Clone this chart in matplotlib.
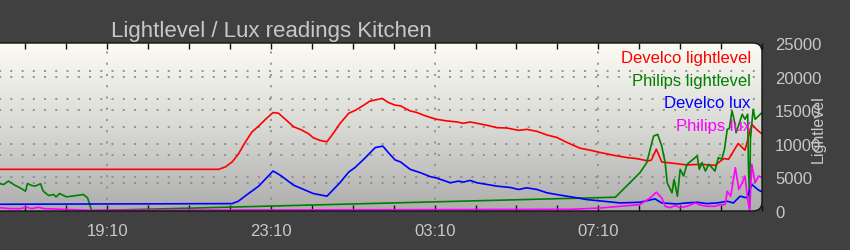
import numpy as np
import matplotlib
matplotlib.use("Agg")
import matplotlib.pyplot as plt
from matplotlib.patches import FancyBboxPatch
from matplotlib.colors import LinearSegmentedColormap
from matplotlib.ticker import FixedLocator, FuncFormatter

plt.rcParams['font.family'] = ['Liberation Sans', 'DejaVu Sans']
plt.rcParams['lines.scale_dashes'] = False

title = "Lightlevel / Lux readings Kitchen"
y_label = "Lightlevel"
series_names = ["Develco lightlevel", "Philips lightlevel", "Develco lux", "Philips lux"]
series_colors = ["#FF0000", "#008000", "#0000FF", "#FF00FF"]
y_ticks = [0, 5000, 10000, 15000, 20000, 25000]

# Develco lightlevel
red_t = ["16:30", "21:53", "22:03", "22:13", "22:22", "22:32", "22:42", "22:52", "23:02", "23:13",
         "23:21", "23:31", "23:43", "23:55", "00:05", "00:12", "00:22", "00:32", "00:42", "00:51",
         "01:04", "01:13", "01:26", "01:35", "01:53", "02:02", "02:12", "02:20", "02:27", "02:34",
         "02:44", "02:54", "03:04", "03:13", "03:28", "03:43", "03:52", "04:02", "04:12", "04:27",
         "04:41", "04:56", "05:13", "05:25", "05:40", "05:55", "06:09", "06:24", "06:43", "06:58",
         "07:13", "07:32", "07:52", "08:06", "08:23", "08:28", "08:35", "08:43", "09:00", "09:20",
         "09:39", "10:01", "10:14", "10:21", "10:35", "10:45", "10:55", "11:03", "11:09"]
red_v = [6200, 6200, 6550, 7300, 8450, 10200, 11750, 12650, 13650, 14650,
         14550, 13650, 12550, 12050, 11500, 10900, 10500, 10300, 11650, 13000,
         14550, 14950, 15750, 16350, 16750, 16150, 15750, 15650, 15250, 14900,
         14650, 14250, 13900, 13650, 13400, 13250, 13050, 13250, 13050, 12750,
         12400, 12350, 12000, 12150, 11850, 11300, 10950, 10200, 9350, 9050,
         8700, 8300, 7950, 7800, 7450, 7600, 9200, 7300, 7100, 6850,
         6950, 6800, 7800, 7700, 10050, 9050, 12900, 12050, 11550]

# Philips lightlevel
green_t = ["16:30", "16:38", "16:45", "16:55", "17:02", "17:10", "17:13", "17:19", "17:24", "17:32",
           "17:36", "17:44", "17:51", "17:55", "18:00", "18:10", "18:35", "18:41", "18:47", "07:35",
           "08:11", "08:21", "08:31", "08:37", "08:43", "08:48", "08:51", "08:58", "09:01", "09:06",
           "09:10", "09:15", "09:20", "09:35", "09:38", "09:42", "09:47", "09:52", "10:01", "10:06",
           "10:11", "10:15", "10:19", "10:22", "10:26", "10:29", "10:32", "10:37", "10:41", "10:45",
           "10:49", "10:50", "10:52", "10:53", "10:57", "11:00", "11:05", "11:09"]
green_v = [4100, 3950, 4450, 3800, 3450, 2950, 4100, 3800, 3700, 4050,
           2950, 2300, 2450, 2100, 2600, 2100, 2450, 1950, 50, 2050,
           5700, 7200, 11150, 11400, 9650, 7200, 4200, 2700, 4700, 2200,
           6200, 5200, 6950, 8200, 6200, 7200, 5950, 6950, 5950, 7950,
           7700, 9200, 12150, 12250, 14900, 13650, 11650, 13150, 14400, 13650,
           14400, 7200, 700, 10650, 15150, 13650, 14150, 14550]

# Develco lux
blue_t = ["16:30", "19:09", "22:13", "22:22", "22:35", "22:52", "23:13", "23:24", "23:43", "23:58",
          "00:12", "00:32", "00:51", "01:04", "01:13", "01:26", "01:43", "01:54", "02:02", "02:12",
          "02:20", "02:34", "02:49", "03:04", "03:13", "03:23", "03:33", "03:45", "03:52", "04:02",
          "04:12", "04:27", "04:41", "05:01", "05:13", "05:25", "05:40", "05:55", "06:09", "06:24",
          "06:39", "06:53", "07:13", "07:42", "08:11", "08:33", "08:43", "09:05", "09:20", "09:35",
          "09:49", "10:04", "10:19", "10:28", "10:38", "10:48", "10:55", "11:05", "11:09"]
blue_v = [1000, 1050, 1100, 1450, 2450, 3700, 5950, 5300, 3850, 3200,
          2600, 2200, 4200, 5800, 6450, 7700, 9450, 9650, 8700, 7600,
          7300, 6200, 5700, 5100, 4900, 4550, 4200, 4450, 4300, 4550,
          4200, 3950, 3700, 3500, 3200, 3450, 3200, 2700, 2450, 2200,
          1950, 1700, 1500, 1200, 1300, 1800, 1200, 1050, 1200, 1300,
          1100, 1200, 1450, 1200, 2200, 1950, 3950, 3100, 2900]

# Philips lux
magenta_t = ["16:30", "16:48", "17:02", "17:12", "17:19", "17:29", "17:37", "18:45", "06:30", "07:13",
             "07:42", "08:11", "08:26", "08:35", "08:43", "08:48", "08:55", "09:03", "09:10", "09:20",
             "09:32", "09:39", "09:49", "10:01", "10:09", "10:16", "10:19", "10:24", "10:31", "10:36",
             "10:41", "10:45", "10:49", "10:52", "10:55", "11:00", "11:05", "11:09"]
magenta_v = [500, 350, 350, 550, 350, 550, 350, 100, 250, 450,
             700, 950, 1950, 2800, 1950, 700, 500, 800, 500, 700,
             1200, 900, 700, 700, 950, 950, 2950, 2200, 6450, 3200,
             4200, 5200, 1700, 0, 6950, 4200, 5200, 5000]


def to_hours(times):
    out = []
    for t in times:
        h, m = t.split(":")
        v = int(h) + int(m) / 60
        if v < 12:
            v += 24
        out.append(v)
    return np.array(out)


fig = plt.figure(figsize=(8.5, 2.51), dpi=100, facecolor="#404040")
# plot area is wider than the picture, its left part is cut off
ax = fig.add_axes([-220 / 850, 39 / 251, 982 / 850, 168 / 251])
ax.set_facecolor("none")
for s in ax.spines.values():
    s.set_visible(False)
ax.set_xlim(11 + 10 / 60, 35 + 10 / 60)
ax.set_ylim(0, 25000)

# gradient background with rounded corners
clip = FancyBboxPatch((-2.2, 0.39), 9.82, 1.68, boxstyle="round,pad=0,rounding_size=0.09",
                      transform=fig.dpi_scale_trans)
bg = LinearSegmentedColormap.from_list("bg", ["#FCFCF4", "#D9D9D5", "#ADADAD"])
img = ax.imshow(np.linspace(0, 1, 256).reshape(-1, 1), cmap=bg, aspect="auto",
                extent=[0, 1, 0, 1], transform=ax.transAxes, origin="upper", zorder=0)
img.set_clip_path(clip)
border = FancyBboxPatch((-2.2, 0.39), 9.82, 1.68, boxstyle="round,pad=0,rounding_size=0.09",
                        transform=fig.dpi_scale_trans, facecolor="none", edgecolor="#111111",
                        lw=1.0, zorder=5)
fig.add_artist(border)

# grid
dots = (1.5, 6.6)
for v in y_ticks[1:-1]:
    ax.axhline(v, color="#888888", lw=1.2, dashes=dots, zorder=1)
for k in range(1, 6):
    ax.axhline(25000 * k / 6, color="#888888", lw=1.2, dashes=dots, zorder=1)
hour_ticks = [11 + 10 / 60 + k for k in range(25)]
for k, h in enumerate(hour_ticks):
    if k % 4 == 0 and 0 < k < 24:
        ax.axvline(h, color="#888888", lw=1.2, dashes=dots, zorder=1)

series = [(red_t, red_v), (green_t, green_v), (blue_t, blue_v), (magenta_t, magenta_v)]
for (t, v), c in zip(series, series_colors):
    ax.plot(to_hours(t), v, color=c, lw=1.2, zorder=3)

ax.xaxis.set_major_locator(FixedLocator(hour_ticks))


def fmt(x, pos):
    k = int(round(x - hour_ticks[0]))
    # only the labels that fall inside the picture
    if k % 4 == 0 and 8 <= k <= 20:
        return "%02d:10" % (int(round(x - 10 / 60)) % 24)
    return ""


ax.xaxis.set_major_formatter(FuncFormatter(fmt))
ax.tick_params(axis="x", which="both", direction="in", top=True, bottom=True, length=4,
               width=1, color="#111111", labelcolor="#C8C8C8", labelsize=12, pad=8.5)
ax.yaxis.tick_right()
ax.set_yticks(y_ticks)
ax.tick_params(axis="y", length=0, pad=9.5, labelsize=12, labelcolor="#C8C8C8")

fig.text(818 / 850, 1 - 129 / 251, y_label, rotation=90, ha="center", va="center",
         fontsize=11.5, color="#C8C8C8")
fig.text(271 / 850, 1 - 37 / 251, title, ha="center", va="baseline", fontsize=16,
         color="#C8C8C8")

for i, (name, c) in enumerate(zip(series_names, series_colors)):
    fig.text(751 / 850, 1 - (59 + 22.5 * i) / 251, name, ha="right", va="center",
             fontsize=12, color=c, zorder=6)

fig.savefig("out.png", dpi=100, facecolor=fig.get_facecolor())
